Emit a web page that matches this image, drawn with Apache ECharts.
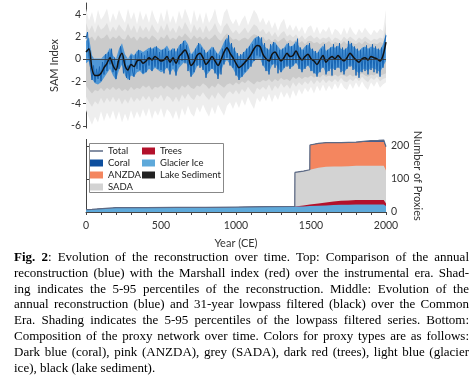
<!DOCTYPE html>
<html><head><meta charset="utf-8">
<script src="https://cdn.jsdelivr.net/npm/echarts@6/dist/echarts.min.js"></script>
<style>
html,body{margin:0;padding:0;background:#fff;}
#chart{position:absolute;left:0;top:0;width:474px;height:382px;}
#cap{position:absolute;left:14px;top:249px;width:455px;font-family:'Liberation Serif','Times New Roman',serif;font-size:13px;line-height:15.8px;color:#000;z-index:5;}
#cap div{text-align:justify;text-align-last:justify;}
#cap div.last{text-align-last:left;}
</style></head>
<body>
<div id="chart"></div>
<div id="cap">
<div><b>Fig. 2</b>: Evolution of the reconstruction over time. Top: Comparison of the annual</div>
<div>reconstruction (blue) with the Marshall index (red) over the instrumental era. Shad-</div>
<div>ing indicates the 5-95 percentiles of the reconstruction. Middle: Evolution of the</div>
<div>annual reconstruction (blue) and 31-year lowpass filtered (black) over the Common</div>
<div>Era. Shading indicates the 5-95 percentiles of the lowpass filtered series. Bottom:</div>
<div>Composition of the proxy network over time. Colors for proxy types are as follows:</div>
<div>Dark blue (coral), pink (ANZDA), grey (SADA), dark red (trees), light blue (glacier</div>
<div class="last">ice), black (lake sediment).</div>
</div>
<script>
// ---------- Top panel: SAM index ----------
const samTicks = [-6, -4, -2, 0, 2, 4];
const shadeYears = Array.from({length: 101}, (_, i) => i * 20);
const outerUpper = [4.5,3.4,4.2,3.1,4.4,3.5,3.9,4.5,3.2,4.1, 3.4,4.4,3.7,3.2,4.5,3.5,4.2,3.1,4.3,3.4,
  4.1,3.2,4.4,3.6,3.1,4.2,3.3,4.5,3.2,3.9, 3.1,4.3,3.5,4.5,3.8,3.0,4.4,3.3,4.1,3.1,
  4.2,3.2,3.7,4.5,3.3,2.9,4.1,4.5,3.6,3.1, 3.6,2.9,3.5,3.9,3.0,3.7,4.4,4.0,3.2,3.7,
  3.0,3.5,2.7,3.3,2.5,3.2,3.6,2.6,3.1,2.5, 3.0,2.4,2.9,2.2,2.8,3.0,2.3,2.9,2.2,2.7,
  2.4,2.9,2.1,2.7,2.5,2.1,2.8,2.2,2.9,2.4, 2.1,2.7,2.3,2.8,2.4,2.1,2.6,2.3,2.7,2.5, 4.4];
const outerLower = [-4.6,-5.3,-5.9,-5.2,-5.7,-4.7,-5.6,-4.8,-5.4,-4.6, -5.5,-4.7,-5.7,-4.9,-5.6,-4.6,-5.4,-4.7,-5.3,-4.5,
  -5.2,-4.4,-5.4,-4.6,-5.1,-4.4,-5.3,-4.5,-4.8,-5.4, -4.6,-5.5,-4.4,-5.1,-4.2,-4.9,-5.2,-4.3,-4.8,-4.1,
  -4.7,-5.2,-4.3,-5.0,-4.1,-4.6,-5.1,-4.2,-3.9,-4.5, -3.8,-4.4,-3.6,-4.2,-3.4,-4.0,-4.5,-3.5,-3.9,-3.3,
  -3.8,-3.1,-3.9,-3.2,-3.7,-2.9,-3.5,-3.0,-3.6,-2.8, -3.4,-2.7,-3.2,-2.6,-3.0,-2.5,-3.1,-2.4,-2.9,-2.3,
  -2.9,-2.4,-2.8,-2.2,-2.7,-2.1,-2.6,-2.8,-2.2,-2.7, -2.1,-2.6,-2.0,-2.5,-2.8,-2.1,-2.5,-2.0,-2.6,-2.3, -2.1];
const midUpper = [3.2,2.5,3.0,2.3,3.1,2.6,2.8,3.2,2.4,2.9, 2.5,3.1,2.7,2.4,3.2,2.5,3.0,2.3,3.0,2.5,
  2.9,2.4,3.1,2.6,2.3,3.0,2.5,3.2,2.4,2.8, 2.3,3.0,2.6,3.3,2.8,2.3,3.1,2.5,2.9,2.3,
  3.0,2.4,2.7,3.2,2.5,2.2,2.9,3.2,2.7,2.3, 2.6,2.2,2.5,2.8,2.3,2.7,3.1,2.9,2.4,2.7,
  2.2,2.5,2.0,2.4,1.9,2.3,2.5,2.0,2.2,1.9, 2.2,1.8,2.1,1.7,2.0,2.1,1.8,2.0,1.7,1.9,
  1.8,2.0,1.6,1.9,1.8,1.6,2.0,1.7,2.0,1.8, 1.6,1.9,1.7,2.0,1.8,1.6,1.8,1.7,1.9,1.8, 3.2];
const midLower = [-3.4,-3.9,-4.3,-3.8,-4.1,-3.5,-4.0,-3.5,-3.9,-3.4, -3.9,-3.5,-4.1,-3.6,-4.0,-3.4,-3.9,-3.5,-3.8,-3.3,
  -3.7,-3.3,-3.9,-3.4,-3.6,-3.2,-3.8,-3.3,-3.5,-3.9, -3.4,-3.9,-3.2,-3.6,-3.1,-3.5,-3.7,-3.2,-3.4,-3.0,
  -3.4,-3.7,-3.2,-3.6,-3.0,-3.3,-3.6,-3.1,-2.9,-3.2, -2.8,-3.2,-2.7,-3.0,-2.5,-2.9,-3.2,-2.6,-2.8,-2.5,
  -2.8,-2.3,-2.9,-2.4,-2.7,-2.2,-2.6,-2.3,-2.7,-2.1, -2.5,-2.1,-2.4,-2.0,-2.3,-1.9,-2.3,-1.9,-2.2,-1.8,
  -2.2,-1.9,-2.1,-1.8,-2.1,-1.7,-2.0,-2.1,-1.8,-2.0, -1.7,-2.0,-1.6,-1.9,-2.1,-1.7,-1.9,-1.6,-2.0,-1.8, -1.7];
const innerUpper = [2.2,1.8,2.0,1.6,2.1,1.8,1.9,2.2,1.7,2.0, 1.8,2.1,1.8,1.7,2.2,1.8,2.0,1.6,2.0,1.8,
  2.0,1.7,2.1,1.9,1.6,2.0,1.8,2.2,1.7,1.9, 1.7,2.1,1.9,2.3,2.0,1.7,2.1,1.8,2.0,1.7,
  2.0,1.7,1.9,2.2,1.8,1.6,2.0,2.3,2.0,1.7, 1.8,1.6,1.8,1.9,1.7,2.0,2.2,2.1,1.8,2.0,
  1.6,1.8,1.5,1.8,1.5,1.7,1.9,1.5,1.7,1.5, 1.7,1.4,1.6,1.3,1.6,1.6,1.4,1.5,1.3,1.5,
  1.4,1.6,1.3,1.5,1.4,1.3,1.6,1.3,1.6,1.4, 1.3,1.5,1.3,1.6,1.4,1.3,1.4,1.3,1.5,1.4, 2.4];
const innerLower = [-2.4,-2.8,-3.1,-2.8,-2.9,-2.6,-2.9,-2.6,-2.8,-2.5, -2.8,-2.6,-2.9,-2.7,-2.9,-2.5,-2.8,-2.6,-2.7,-2.4,
  -2.6,-2.4,-2.8,-2.5,-2.6,-2.4,-2.7,-2.4,-2.6,-2.8, -2.5,-2.8,-2.4,-2.6,-2.3,-2.6,-2.7,-2.4,-2.5,-2.2,
  -2.4,-2.7,-2.4,-2.6,-2.2,-2.4,-2.6,-2.3,-2.2,-2.4, -2.1,-2.3,-2.0,-2.2,-1.9,-2.1,-2.3,-2.0,-2.1,-1.9,
  -2.0,-1.8,-2.1,-1.8,-2.0,-1.7,-1.9,-1.8,-2.0,-1.6, -1.8,-1.6,-1.8,-1.6,-1.7,-1.5,-1.7,-1.5,-1.7,-1.4,
  -1.6,-1.5,-1.6,-1.4,-1.6,-1.4,-1.5,-1.6,-1.4,-1.6, -1.4,-1.5,-1.3,-1.5,-1.6,-1.4,-1.5,-1.3,-1.5,-1.4, -1.3];
// envelope of the dense blue annual band (read per 20 years)
const blueUpper = [1.6,1.9,0.3,-0.1,-0.2,0.0,0.3,0.5,1.0,0.3, 0.0,0.9,1.4,0.4,0.0,0.5,0.3,0.7,0.8,0.6,
  0.8,1.0,0.9,1.1,1.0,0.8,0.9,1.2,0.7,1.0, 0.6,1.2,1.4,1.7,1.3,0.4,0.7,1.2,1.4,1.0,
  0.5,0.8,1.1,0.8,0.4,0.9,1.5,1.9,1.4,1.0, 0.6,0.2,0.4,0.7,1.0,1.4,1.8,2.0,1.9,1.3,
  1.0,0.8,1.3,1.5,1.1,0.8,1.0,1.4,1.1,1.2, 1.6,1.1,0.8,1.1,1.3,0.9,0.7,0.5,0.9,1.2,
  0.7,0.9,1.1,1.0,1.2,0.9,0.8,1.0,1.4,1.1, 0.9,0.7,1.0,1.1,0.9,1.1,1.0,0.9,0.8,1.3, 2.3];
const blueLower = [-0.4,-0.2,-1.8,-2.2,-2.3,-2.1,-1.7,-1.3,-0.9,-1.5, -1.9,-1.0,-0.5,-1.5,-1.9,-1.5,-1.6,-1.2,-1.1,-1.4,
  -1.2,-0.9,-1.1,-0.8,-1.0,-1.2,-1.1,-0.8,-1.3,-0.9, -1.4,-0.8,-0.5,-0.2,-0.7,-1.6,-1.3,-0.7,-0.5,-0.9,
  -1.5,-1.2,-0.8,-1.2,-1.6,-1.1,-0.4,-0.1,-0.5,-0.9, -1.4,-1.8,-1.6,-1.3,-1.0,-0.6,-0.2,0.0,0.0,-0.6,
  -1.0,-1.2,-0.6,-0.4,-0.8,-1.2,-0.9,-0.5,-0.8,-0.7, -0.3,-0.8,-1.1,-0.8,-0.6,-1.0,-1.2,-1.5,-1.1,-0.7,
  -1.3,-1.0,-0.8,-1.0,-0.7,-1.0,-1.2,-0.9,-0.5,-0.8, -1.1,-1.3,-1.0,-0.9,-1.1,-0.8,-0.9,-1.0,-1.2,-0.7, -0.2];
const lowpass = [0.6,0.9,-0.9,-1.5,-1.5,-1.3,-0.8,-0.4,0.1,-0.6, -1.0,0.0,0.5,-0.6,-1.0,-0.5,-0.7,-0.2,-0.1,-0.4,
  -0.2,0.1,-0.1,0.2,0.0,-0.2,-0.1,0.2,-0.3,0.1, -0.4,0.2,0.5,0.8,0.3,-0.6,-0.3,0.3,0.5,0.1,
  -0.5,-0.2,0.2,-0.2,-0.6,-0.1,0.6,1.0,0.5,0.1, -0.4,-0.8,-0.6,-0.3,0.0,0.4,0.9,1.2,1.1,0.4,
  0.0,-0.2,0.4,0.6,0.2,-0.2,0.1,0.5,0.2,0.3, 0.7,0.2,-0.1,0.2,0.4,0.0,-0.2,-0.5,-0.1,0.3,
  -0.3,0.0,0.2,0.0,0.3,0.0,-0.2,0.1,0.5,0.2, -0.1,-0.3,0.0,0.1,-0.1,0.2,0.1,0.0,-0.2,0.3, 1.5];
const annualYears = Array.from({length: 201}, (_, i) => i * 10);
const annual = [1.8,2.4,0.2,-0.8,-1.9,-0.6,-2.1,-0.9,-1.8,-0.7,
  -2.0,-0.3,-1.4,0.4,-1.1,0.6,-0.5,0.9,-1.2,0.1,
  -1.8,-0.2,-0.9,1.1,0.3,-1.3,-0.1,-1.7,-0.6,-1.9,
  0.3,-1.1,-1.6,0.4,-0.9,0.8,-1.0,0.5,-1.3,0.3,
  -1.2,0.7,-0.6,1.0,-1.1,0.9,-0.7,1.1,-0.9,0.6,
  -1.0,0.8,-1.3,0.9,-0.8,0.7,-1.4,0.8,-0.6,0.9,
  -1.5,0.9,-0.5,1.3,-0.2,1.6,-0.4,1.2,-1.1,0.5,
  -1.6,0.4,-1.2,0.9,-0.6,1.4,-0.8,1.0,-1.0,0.8,
  -1.7,0.6,-1.1,0.8,-0.9,1.0,-1.3,0.5,-1.8,0.3,
  -1.4,0.9,-0.5,1.7,0.1,2.1,-0.6,1.4,-0.8,1.0,
  -1.5,0.5,-1.9,0.4,-1.6,0.6,-1.2,0.9,-0.9,1.1,
  -0.7,1.3,-0.2,1.8,0.3,2.0,0.2,1.9,-0.6,1.4,
  -1.1,0.9,-1.4,1.3,-0.5,1.5,-0.8,1.2,-1.3,0.8,
  -1.2,0.9,-0.8,1.0,-0.7,1.4,-0.9,1.1,-0.6,1.3,
  -0.4,1.8,-0.9,1.0,-1.2,0.8,-0.9,1.2,-0.6,1.4,
  -1.1,0.9,-1.3,0.7,-1.6,0.6,-1.2,0.9,-0.8,1.3,
  -1.4,0.8,-1.1,1.0,-1.5,1.3,-1.0,1.1,-0.8,1.4,
  -1.2,1.0,-1.4,0.9,-0.9,1.6,-0.7,1.4,-1.0,1.1,
  -1.5,0.9,-1.7,0.8,-1.2,1.0,-1.1,1.2,-1.4,0.9,
  -1.0,1.3,-1.2,1.1,-1.3,0.9,-1.6,1.0,-0.8,1.4,
  2.1];

// ---------- Bottom panel: proxy network ----------
const proxyTicks = [0, 100, 200];
const proxyYears = [0,40,50,200,400,600,800,1000,1200,1392,1393,1450,1492,1493,1550,1600,1650,1700,1750,1800,1850,1900,1950,1985,1995,2000];
const glacierIce = [7,8,12,13,13,14,14,15,16,17,17,17,18,18,19,20,21,22,22,23,23,23,23,23,22,18];
const trees      = [0,0,0,0,0,0,0,0,0,0,1,3,5,5,7,9,11,12,13,13,13,13,13,13,12,8];
const sada       = [0,0,0,0,0,0,0,0,0,0,102,104,105,105,108,108,106,104,104,104,104,104,104,104,104,100];
const anzda      = [0,0,0,0,0,0,0,0,0,0,0,0,0,75,74,73,72,72,72,71,72,73,73,73,73,70];
const coral      = [0,0,0,0,0,0,0,0,0,0,0,0,0,0,0,0,0,0,0,1,2,3,3,4,4,2];
const lakeSed    = [0,0,0,0,0,0,0,0,0,0,0,0,0,0,0,0,0,0,0,0,0,0,1,1,1,0];

const pairs = (xs, ys) => xs.map((x, i) => [x, ys[i]]);
// cumulative stacking (bottom to top): glacier, trees, SADA, ANZDA, coral, lake sediment
const layers = [glacierIce, trees, sada, anzda, coral, lakeSed];
const cum = [];
layers.forEach((arr, k) => cum.push(arr.map((v, i) => v + (k ? cum[k - 1][i] : 0))));
const total = cum[5];

const FONT = "Lato, 'Open Sans', sans-serif";
const axisTxt = {color: '#333', fontSize: 10.5, fontFamily: FONT};

function band(name, xs, ys, color) {
  return {name, type: 'line', xAxisIndex: 0, yAxisIndex: 0, data: pairs(xs, ys),
    symbol: 'none', silent: true, lineStyle: {width: 0}, areaStyle: {color, opacity: 1}};
}
function layer(name, ys, color) {
  return {name, type: 'line', xAxisIndex: 1, yAxisIndex: 1, data: pairs(proxyYears, ys),
    symbol: 'none', silent: true, color, lineStyle: {width: 0}, areaStyle: {color, opacity: 1}, itemStyle: {color}};
}

const chart = echarts.init(document.getElementById('chart'));
chart.setOption({
  animation: false,
  grid: [
    {left: 86, top: 3, width: 300, height: 125},
    {left: 86, top: 139.4, width: 300, height: 72.6}
  ],
  xAxis: [
    {gridIndex: 0, type: 'value', min: 0, max: 2000, show: false},
    {gridIndex: 1, type: 'value', min: 0, max: 2000, interval: 100,
      axisLine: {show: true, lineStyle: {color: '#444'}},
      axisTick: {show: true, length: 3, lineStyle: {color: '#444'}},
      axisLabel: Object.assign({margin: 8, formatter: v => (v % 500 === 0 ? String(v) : '')}, axisTxt),
      splitLine: {show: false},
      name: 'Year (CE)', nameLocation: 'middle', nameGap: 26,
      nameTextStyle: {color: '#333', fontSize: 11, fontFamily: FONT}}
  ],
  yAxis: [
    {gridIndex: 0, type: 'value', min: -6.2, max: 5,
      axisLine: {show: true, lineStyle: {color: '#444'}},
      axisTick: {show: true, length: 3, customValues: samTicks, lineStyle: {color: '#444'}},
      axisLabel: Object.assign({margin: 5, customValues: samTicks}, axisTxt),
      splitLine: {show: false},
      name: 'SAM Index', nameLocation: 'middle', nameGap: 20,
      nameTextStyle: {color: '#333', fontSize: 11, fontFamily: FONT}},
    {gridIndex: 1, type: 'value', min: 0, max: 220, position: 'right',
      axisLine: {show: true, lineStyle: {color: '#444'}},
      axisTick: {show: true, length: 3, customValues: proxyTicks, lineStyle: {color: '#444'}},
      axisLabel: Object.assign({margin: 5, customValues: proxyTicks}, axisTxt),
      splitLine: {show: false},
      name: 'Number of Proxies', nameLocation: 'middle', nameRotate: -90, nameGap: 26, nameMoveOverlap: false,
      nameTextStyle: {color: '#333', fontSize: 11, fontFamily: FONT}}
  ],
  graphic: [{type: 'rect', left: 89, top: 143, z: 3,
    shape: {width: 134, height: 49}, style: {fill: '#fff', stroke: '#888', lineWidth: 1}}],
  legend: [
    {left: 90, top: 145, orient: 'vertical', padding: 0, itemGap: 0, itemWidth: 13, itemHeight: 7, z: 5,
      textStyle: {fontSize: 9.5, lineHeight: 12, color: '#222', fontFamily: FONT},
      data: [{name: 'Total', icon: 'path://M0,0 L26,0 L26,3 L0,3 Z'}, {name: 'Coral', icon: 'rect'}, {name: 'ANZDA', icon: 'rect'}, {name: 'SADA', icon: 'rect'}]},
    {left: 142, top: 145, orient: 'vertical', padding: 0, itemGap: 0, itemWidth: 13, itemHeight: 7, z: 5,
      textStyle: {fontSize: 9.5, lineHeight: 12, color: '#222', fontFamily: FONT},
      data: [{name: 'Trees', icon: 'rect'}, {name: 'Glacier Ice', icon: 'rect'}, {name: 'Lake Sediment', icon: 'rect'}]}
  ],
  series: [
    band('outerUp', shadeYears, outerUpper, '#eeeeee'),
    band('outerLo', shadeYears, outerLower, '#eeeeee'),
    band('midUp', shadeYears, midUpper, '#dedede'),
    band('midLo', shadeYears, midLower, '#dedede'),
    band('innerUp', shadeYears, innerUpper, '#cbcbcb'),
    band('innerLo', shadeYears, innerLower, '#cbcbcb'),
    band('blueUp', shadeYears, blueUpper, '#4f97d6'),
    band('blueLo', shadeYears, blueLower, '#4f97d6'),
    {name: 'annual', type: 'line', xAxisIndex: 0, yAxisIndex: 0, data: pairs(annualYears, annual),
      symbol: 'none', silent: true, lineStyle: {color: '#1865b3', width: 1}},
    {name: 'lowpass', type: 'line', xAxisIndex: 0, yAxisIndex: 0, data: pairs(shadeYears, lowpass),
      symbol: 'none', silent: true, smooth: 0.3, lineStyle: {color: '#111', width: 1.5},
      markLine: {silent: true, symbol: 'none', label: {show: false},
        lineStyle: {color: '#333', width: 0.8, type: 'solid'}, data: [{yAxis: 0}]}},
    layer('Lake Sediment', cum[5], '#222222'),
    layer('Coral', cum[4], '#0e4f9e'),
    layer('ANZDA', cum[3], '#f4865f'),
    layer('SADA', cum[2], '#d3d3d3'),
    layer('Trees', cum[1], '#b3112b'),
    layer('Glacier Ice', cum[0], '#5ea9da'),
    {name: 'Total', type: 'line', xAxisIndex: 1, yAxisIndex: 1, data: pairs(proxyYears, total),
      symbol: 'none', silent: true, color: '#5b6a86', lineStyle: {color: '#5b6a86', width: 1.2}}
  ]
});
</script>
</body></html>
